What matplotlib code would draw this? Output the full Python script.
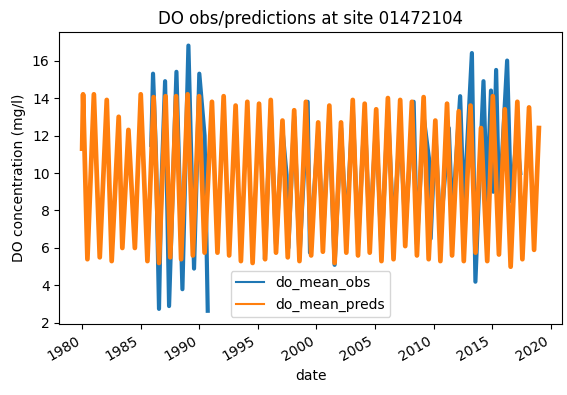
import matplotlib
matplotlib.use("Agg")
import matplotlib.pyplot as plt
import matplotlib.dates as mdates
from matplotlib.lines import Line2D
import numpy as np
import pandas as pd

# predictions: start/end values plus the yearly winter peaks and summer troughs (decimal years)
pred_start = (1980.00, 11.3)
pred_end = (2018.99, 12.4)
pred_peak_t = [1980.08, 1981.00, 1982.10, 1983.12, 1983.95, 1985.00, 1986.10, 1987.12,
               1988.02, 1989.00, 1989.98, 1991.08, 1992.08, 1993.10, 1994.10, 1995.10,
               1996.10, 1997.10, 1998.10, 1999.10, 2000.15, 2001.10, 2002.10, 2003.10,
               2004.12, 2005.10, 2006.10, 2007.15, 2008.15, 2009.15, 2010.15, 2011.15,
               2012.15, 2013.15, 2014.05, 2015.06, 2016.08, 2017.15, 2018.15]
pred_peak_v = [14.2, 14.2, 13.9, 13.0, 12.3, 14.2, 14.05, 14.1, 14.1, 14.2, 14.1, 13.8,
               14.1, 13.6, 13.8, 13.7, 13.9, 12.8, 13.35, 13.8, 12.7, 13.6, 12.7, 13.9,
               13.7, 13.4, 14.0, 13.9, 13.8, 14.05, 12.8, 13.7, 13.3, 13.6, 12.4, 14.1,
               13.4, 13.8, 13.5]
pred_trough_t = [1980.45, 1981.50, 1982.52, 1983.43, 1984.50, 1985.57, 1986.56, 1987.52,
                 1988.45, 1989.45, 1990.45, 1991.55, 1992.55, 1993.55, 1994.55, 1995.62,
                 1996.55, 1997.55, 1998.55, 1999.55, 2000.55, 2001.55, 2002.55, 2003.55,
                 2004.55, 2005.55, 2006.58, 2007.58, 2008.58, 2009.58, 2010.58, 2011.58,
                 2012.58, 2013.58, 2014.58, 2015.58, 2016.58, 2017.58, 2018.58]
pred_trough_v = [5.4, 5.5, 5.3, 6.0, 6.0, 5.3, 5.2, 5.5, 5.4, 5.6, 5.75, 5.75, 5.6, 5.3,
                 5.2, 5.4, 5.75, 5.5, 5.3, 5.6, 5.8, 5.2, 5.75, 5.6, 5.75, 5.3, 5.4, 6.1,
                 5.6, 5.4, 5.3, 5.6, 5.3, 5.75, 5.3, 5.65, 5.0, 5.4, 5.9]

# observations, two sampled periods with a gap in between (nan)
obs_t = [1985.90, 1986.05, 1986.30, 1986.56, 1986.75, 1987.08, 1987.42, 1987.70,
         1988.05, 1988.56, 1988.80, 1989.07, 1989.55, 1989.80, 1990.00, 1990.45,
         1990.72, 1990.75,
         1995.60, 1996.10, 1996.55, 1997.10, 1997.45, 1997.60, 1998.10, 1998.55,
         1999.25, 1999.45, 2000.15, 2000.55, 2001.10, 2001.55, 2002.10, 2002.55,
         2003.10, 2003.55, 2004.12, 2004.55, 2005.10, 2005.55, 2006.10, 2006.58,
         2007.15, 2007.58, 2008.30, 2008.58, 2009.15, 2009.60, 2009.75, 2010.15,
         2010.58, 2011.30, 2011.60, 2012.27, 2012.58, 2013.27, 2013.57, 2014.00,
         2014.26, 2014.55, 2014.90, 2015.10, 2015.34, 2015.60, 2016.28, 2016.60,
         2017.10, 2017.40]
obs_v = [11.5, 15.3, 11.0, 2.75, 9.0, 14.9, 2.9, 8.5,
         15.4, 3.8, 10.0, 16.8, 4.9, 10.5, 15.3, 12.0,
         2.65, np.nan,
         5.5, 13.4, 6.2, 12.3, 9.9, 6.0, 13.0, 5.5,
         13.8, 5.75, 12.2, 6.5, 13.0, 5.1, 12.4, 6.8,
         13.5, 6.2, 13.2, 6.5, 12.8, 5.8, 13.4, 6.8,
         12.6, 7.0, 13.8, 6.2, 13.0, 10.8, 6.5, 12.2,
         6.8, 12.4, 7.5, 14.1, 8.0, 16.4, 4.2, 11.0,
         14.9, 8.5, 14.4, 9.0, 15.5, 8.0, 16.0, 8.5,
         12.0, 10.0]


def to_dates(years):
    years = np.asarray(years, dtype=float)
    base = pd.to_datetime([f"{int(y)}-01-01" for y in years])
    return base + pd.to_timedelta((years - years.astype(int)) * 365.25, unit="D")


pred_t = [pred_start[0]] + pred_peak_t + pred_trough_t + [pred_end[0]]
pred_v = [pred_start[1]] + pred_peak_v + pred_trough_v + [pred_end[1]]
order = np.argsort(pred_t)
pred = pd.Series(np.array(pred_v)[order], index=to_dates(np.array(pred_t)[order]))
obs = pd.Series(obs_v, index=to_dates(obs_t))

c_obs, c_pred = "#1f77b4", "#ff7f0e"

fig = plt.figure(figsize=(5.67, 3.95), dpi=100)
ax = fig.add_axes([0.1046, 0.1797, 0.8861, 0.7385])

# thick strokes stand in for the noisy daily band of the original
ax.plot(obs.index, obs.values, color=c_obs, lw=3.0)
ax.plot(pred.index, pred.values, color=c_pred, lw=3.4)

ax.xaxis.set_major_locator(mdates.YearLocator(5))
ax.xaxis.set_major_formatter(mdates.DateFormatter("%Y"))
for lbl in ax.get_xticklabels():
    lbl.set_rotation(30)
    lbl.set_ha("right")

ax.set_xlabel("date")
ax.set_ylabel("DO concentration (mg/l)")
ax.set_title("DO obs/predictions at site 01472104")

handles = [Line2D([], [], color=c_obs, lw=1.5), Line2D([], [], color=c_pred, lw=1.5)]
ax.legend(handles, ["do_mean_obs", "do_mean_preds"], loc="lower center")

fig.savefig("out.png", dpi=100)
